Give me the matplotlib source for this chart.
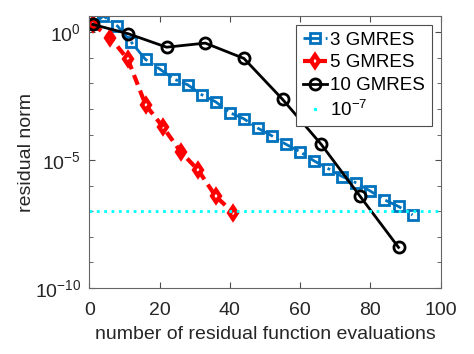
import numpy as np
import matplotlib
matplotlib.use("Agg")
import matplotlib.pyplot as plt
from matplotlib.lines import Line2D
from matplotlib.ticker import FixedLocator, NullFormatter

plt.rcParams['font.family'] = ['Liberation Sans', 'DejaVu Sans']
plt.rcParams['mathtext.fontset'] = 'custom'
plt.rcParams['mathtext.rm'] = 'Liberation Sans'
plt.rcParams['mathtext.it'] = 'Liberation Sans'

# function evaluations and log10 of residual norm
x_gm3 = [1, 4, 8, 12, 16, 20, 24, 28, 32, 36, 40, 44, 48, 52, 56, 60, 64, 68, 72, 76, 80, 84, 88, 92]
log_gm3 = [0.31, 0.64, 0.25, -0.39, -1.06, -1.43, -1.82, -2.05, -2.44, -2.72, -3.14, -3.38,
           -3.75, -4.05, -4.38, -4.67, -5.03, -5.33, -5.64, -5.89, -6.21, -6.55, -6.81, -7.14]

x_gm5 = [1, 6, 11, 16, 21, 26, 31, 36, 41]
log_gm5 = [0.31, -0.21, -1.06, -2.83, -3.71, -4.67, -5.39, -6.42, -7.05]

x_gm10 = [1, 11, 22, 33, 44, 55, 66, 77, 88]
log_gm10 = [0.31, -0.05, -0.58, -0.42, -1.02, -2.62, -4.38, -6.40, -8.41]

tol = 1e-7

blue = (0, 0.447, 0.741)

fig = plt.figure(figsize=(4.74, 3.54), dpi=100)
ax = fig.add_axes([0.1884, 0.1864, 0.7413, 0.7684])

ax.semilogy(x_gm3, 10.0 ** np.array(log_gm3), '-.s', color=blue, lw=2, ms=6.5,
            mfc='none', mew=2, label='3 GMRES')
ax.semilogy(x_gm5, 10.0 ** np.array(log_gm5), 'd', ls=(0, (2.5, 1.5)), color='red',
            lw=3, ms=6.5, mfc='none', mew=3, label='5 GMRES')
ax.semilogy(x_gm10, 10.0 ** np.array(log_gm10), '-o', color='black', lw=2, ms=8,
            mfc='none', mew=2, label='10 GMRES')
ax.axhline(tol, color='cyan', ls=':', lw=2)

ax.set_xlim(0, 100)
ax.set_ylim(1e-10, 10 ** 0.64)

ax.xaxis.set_major_locator(FixedLocator([0, 20, 40, 60, 80, 100]))
ax.yaxis.set_major_locator(FixedLocator([1e-10, 1e-5, 1e0]))
ax.set_yticklabels([r'$\mathregular{10^{-10}}$', r'$\mathregular{10^{-5}}$', r'$\mathregular{10^{0}}$'])
minors = [10.0 ** k for k in range(-10, 1) if k % 5 != 0]
ax.yaxis.set_minor_locator(FixedLocator(minors))
ax.yaxis.set_minor_formatter(NullFormatter())

ax.tick_params(which='both', direction='in', top=True, right=True, labelsize=14,
               color='0.3', labelcolor='0.15')
ax.tick_params(axis='x', pad=10)
ax.tick_params(axis='y', pad=6)
ax.tick_params(which='major', length=4)
ax.tick_params(which='minor', length=3)
for s in ax.spines.values():
    s.set_color('0.4')
    s.set_linewidth(0.8)

ax.set_xlabel('number of residual function evaluations', fontsize=14, color='0.15', labelpad=5)
ax.set_ylabel('residual norm', fontsize=14, color='0.15', labelpad=0)

# legend: the tolerance line shows up as a single dot, like the original
handles, labels = ax.get_legend_handles_labels()
handles.append(Line2D([], [], ls='none', marker='.', ms=3, color='cyan'))
labels.append(r'$\mathregular{10^{-7}}$')
leg = ax.legend(handles, labels, loc='upper right', bbox_to_anchor=(0.974, 0.967),
                borderaxespad=0, fontsize=13.5, handlelength=1.3, handletextpad=0.15,
                borderpad=0.35, labelspacing=0.3, fancybox=False, framealpha=1,
                edgecolor='0.3')
leg.get_frame().set_linewidth(0.8)

fig.savefig('out.png', dpi=100)
